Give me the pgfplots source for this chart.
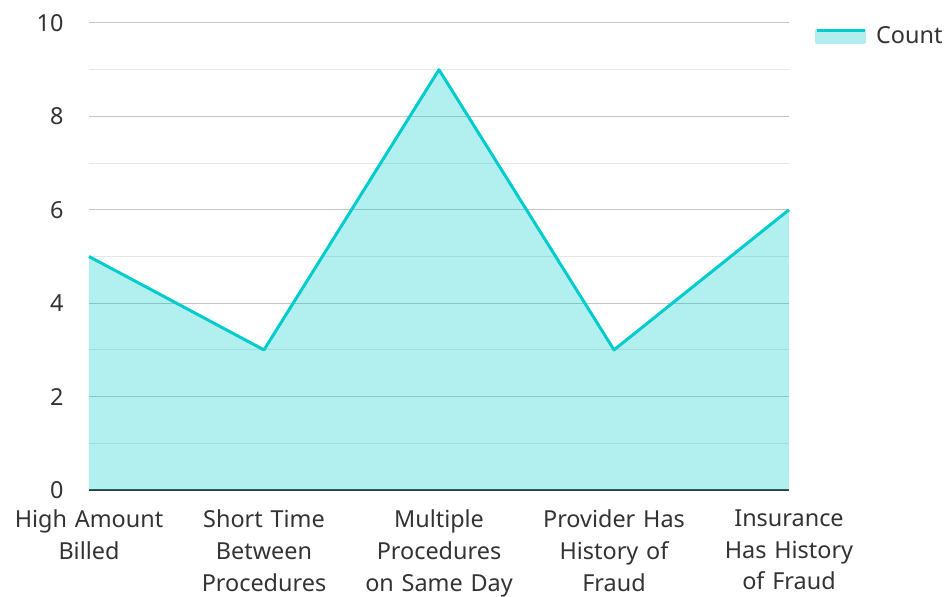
\documentclass[border=0pt]{standalone}
\usepackage{pgfplots}
\pgfplotsset{compat=1.18}
\usepackage{fontspec}
\setmainfont{Noto Sans}
\definecolor{linec}{HTML}{00CCCC}
\definecolor{fillc}{HTML}{B2EEEE}
\definecolor{majg}{HTML}{C4C4C4}
\definecolor{ming}{HTML}{E6E6E6}
\definecolor{txt}{HTML}{333333}
\begin{document}
\begin{tikzpicture}
\path[use as bounding box] (-89bp,-107bp) rectangle (859bp,490bp);
\begin{axis}[
  at={(0,0)}, anchor=south west,
  scale only axis, width=700bp, height=467bp,
  xmin=0, xmax=4, ymin=0, ymax=10,
  xtick={0,1,2,3,4},
  xticklabels={High Amount\\Billed, Short Time\\Between\\Procedures, Multiple\\Procedures\\on Same Day, Provider Has\\History of\\Fraud, Insurance\\Has History\\of Fraud},
  x tick label style={align=center, text width=175bp, font=\fontsize{23.5}{32}\selectfont, text=txt, yshift=-16bp},
  ytick={0,2,4,6,8,10},
  minor ytick={1,3,5,7,9},
  y tick label style={font=\fontsize{23.5}{26}\selectfont, text=txt, xshift=-22bp},
  /pgf/number format/assume math mode=true,
  ymajorgrids, yminorgrids,
  major grid style={majg, line width=1bp},
  minor grid style={ming, line width=1bp},
  major tick length=0pt, minor tick length=0pt,
  axis x line*=bottom, axis y line*=left,
  x axis line style={txt, line width=1.5bp, -},
  y axis line style={draw=none},
  clip=false,
  legend style={at={(rel axis cs:1.037,0.993)}, anchor=north west, draw=none, fill=none,
    font=\fontsize{23.5}{26}\selectfont, text=txt, inner sep=0pt,
    nodes={inner sep=0pt, text depth=0pt}},
  legend cell align=left,
]
\addplot[draw=none, fill=linec, fill opacity=0.3, forget plot]
  coordinates {(0,5) (1,3) (2,9) (3,3) (4,6)} \closedcycle;
\addplot[draw=linec, line width=3bp, line join=round,
  legend image code/.code={
    \fill[fillc] (0bp,-8bp) rectangle (48bp,4bp);
    \draw[linec, line width=3bp] (0bp,4bp) -- (48bp,4bp);
    \path (58bp,0bp);
  }]
  coordinates {(0,5) (1,3) (2,9) (3,3) (4,6)};
\addlegendentry{Count}
\end{axis}
\end{tikzpicture}
\end{document}
